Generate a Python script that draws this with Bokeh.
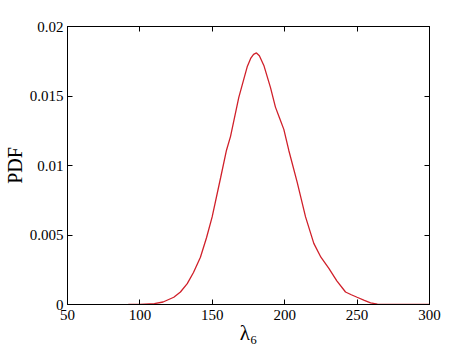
import math
from bokeh.plotting import figure
from bokeh.models import Range1d, LinearAxis, FixedTicker
from bokeh.embed import file_html
from bokeh.resources import INLINE

# data
lam6 = [92, 100, 110, 116, 123.4, 128, 132.7, 137, 141.8, 146, 149.9, 155.7, 159.8,
        162.6, 168.3, 172, 174.1, 176.5, 178.5, 180.5, 182.5, 185.6, 190.2, 193.6,
        196.5, 199.4, 202.8, 208.6, 214.4, 220.1, 225, 230.5, 236, 242, 246, 250,
        255, 259.3, 264, 270, 300]
pdf = [0.0, 0.00001, 0.00006, 0.00018, 0.00052, 0.0009, 0.0015, 0.0023, 0.0034,
       0.0048, 0.0063, 0.0091, 0.0111, 0.0121, 0.0149, 0.0163, 0.0171, 0.0177,
       0.0180, 0.0181, 0.0179, 0.0172, 0.0156, 0.0142, 0.0134, 0.0126, 0.0111,
       0.0088, 0.0063, 0.0044, 0.0034, 0.0026, 0.0017, 0.0009, 0.0007, 0.00052,
       0.0003, 0.00012, 0.00002, 0.0, 0.0]
x_ticks = [50, 100, 150, 200, 250, 300]
y_ticks = [0, 0.005, 0.01, 0.015, 0.02]
y_tick_labels = ["0", "0.005", "0.01", "0.015", "0.02"]
x_title = "λ₆"
y_title = "PDF"

FONT = "Liberation Serif"

p = figure(width=474, height=356, output_backend="svg", toolbar_location=None,
           x_range=Range1d(50, 300), y_range=Range1d(0, 0.02),
           min_border_left=67, min_border_right=45, min_border_top=26, min_border_bottom=52,
           x_axis_location="below", y_axis_location="left")
p.grid.visible = False
p.outline_line_color = "black"
p.outline_line_width = 1
p.background_fill_color = "white"
p.border_fill_color = "white"

p.line(lam6, pdf, line_color="#d0202a", line_width=1.3)

def style(ax, labels=True):
    ax.axis_line_color = "black"
    ax.major_tick_in = 5
    ax.major_tick_out = 0
    ax.minor_tick_line_color = None
    ax.major_tick_line_color = "black"
    ax.major_label_text_font = FONT
    ax.major_label_text_font_size = "15px"
    ax.major_label_text_color = "black"
    ax.axis_label_text_font = FONT
    ax.axis_label_text_font_style = "normal"
    ax.axis_label_text_color = "black"
    if not labels:
        ax.major_label_text_alpha = 0
        ax.major_label_text_font_size = "1px"

xa = p.xaxis[0]
xa.ticker = FixedTicker(ticks=x_ticks)
style(xa)
xa.major_label_standoff = 5
xa.axis_label = x_title
xa.axis_label_text_font_size = "21px"
xa.axis_label_standoff = -2

ya = p.yaxis[0]
ya.ticker = FixedTicker(ticks=y_ticks)
ya.major_label_overrides = {t: l for t, l in zip(y_ticks, y_tick_labels)}
style(ya)
ya.major_label_standoff = 4
ya.axis_label = y_title
ya.axis_label_text_font_size = "20px"
ya.axis_label_standoff = 1

top = LinearAxis(ticker=FixedTicker(ticks=x_ticks))
style(top, labels=False)
p.add_layout(top, "above")
right = LinearAxis(ticker=FixedTicker(ticks=y_ticks))
style(right, labels=False)
p.add_layout(right, "right")

open("out.html", "w").write(file_html(p, INLINE))
